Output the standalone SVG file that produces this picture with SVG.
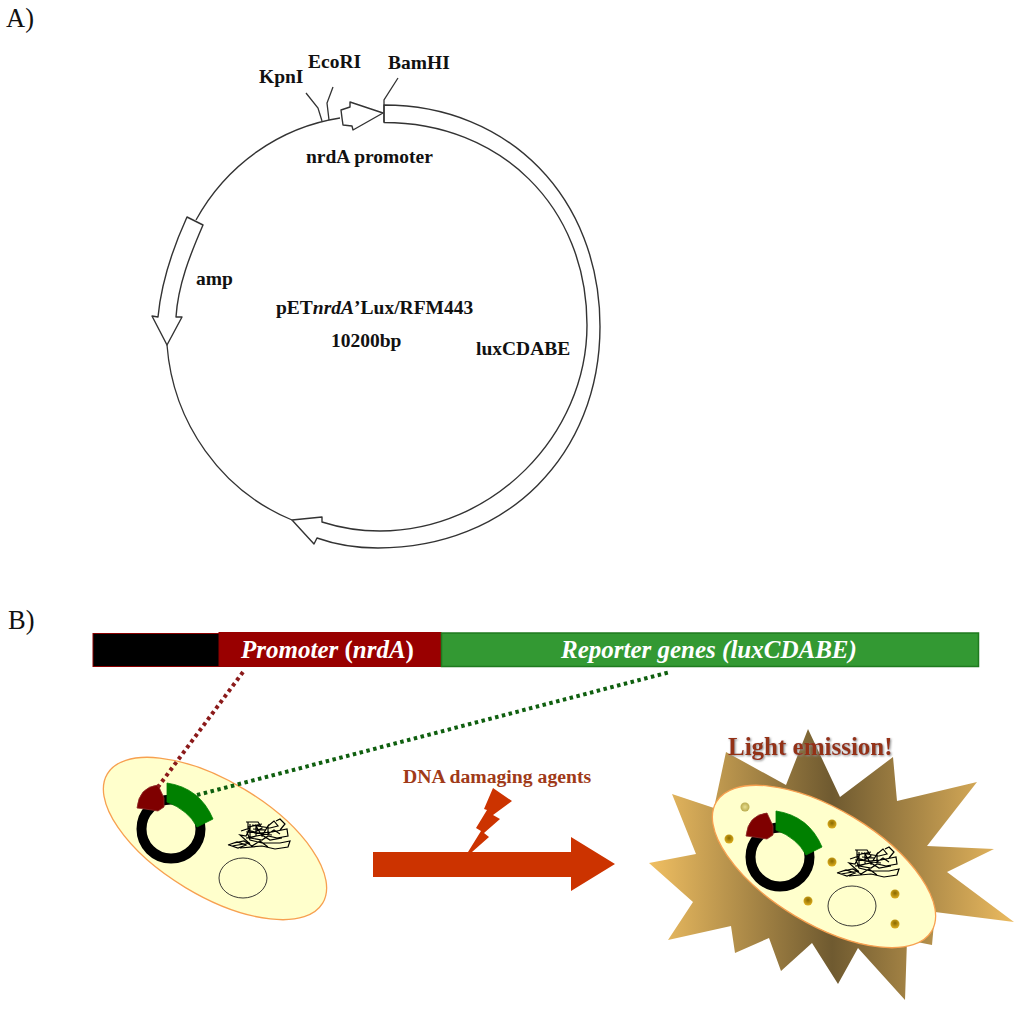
<svg xmlns="http://www.w3.org/2000/svg" width="1024" height="1011" viewBox="0 0 1024 1011">
<style>
text{font-family:"Liberation Serif","Times New Roman",serif}
.l{font-weight:bold;font-size:19.500px;fill:#111}
.p{font-size:26.500px;fill:#111}
.w{font-weight:bold;font-style:italic;font-size:25px;fill:#fff}
.pl{fill:#fff;stroke:#333;stroke-width:1.4;stroke-linejoin:round}
.bb{fill:none;stroke:#333;stroke-width:1.3}
.r{font-weight:bold;fill:#a03a18}
</style>
<defs>
<linearGradient id="burst" x1="649" y1="0" x2="1015" y2="0" gradientUnits="userSpaceOnUse">
<stop offset="0" stop-color="#f0bf62"/><stop offset="0.5" stop-color="#6f5a30"/><stop offset="1" stop-color="#ecbb60"/>
</linearGradient>
<radialGradient id="dot" cx="0.5" cy="0.4" r="0.6"><stop offset="0" stop-color="#8a6a00"/><stop offset="1" stop-color="#e0b020"/></radialGradient>
<radialGradient id="dotp" cx="0.5" cy="0.5" r="0.6"><stop offset="0" stop-color="#e8e090"/><stop offset="1" stop-color="#b0a040"/></radialGradient>
<filter id="sh" x="-5%" y="-20%" width="110%" height="140%"><feDropShadow dx="1" dy="1" stdDeviation="0.8" flood-color="#888"/></filter>
<g id="cellbody">
<ellipse cx="215" cy="838.500" rx="125.600" ry="57.300" transform="rotate(31 215 838.500)" fill="#ffffcc" stroke="#f7a050" stroke-width="1.300"/>
<circle cx="171" cy="829" r="29.500" fill="none" stroke="#000" stroke-width="10"/>
<path d="M137 808Q139 787 158 785L164 798 164 807 158 811 145 809Z" fill="#7f0000" stroke="#8c2a2a" stroke-width="0.800"/>
<path d="M167 783Q200 788 213 819L197 827Q188 810 167 802Z" fill="#008000" stroke="#008000" stroke-width="0.800"/>
<ellipse cx="243" cy="878" rx="24" ry="20" fill="none" stroke="#222" stroke-width="0.900"/>
<path d="M228 845L237 842 246 845 238 848 229 845ZM232 846L250 843M240 848L262 846 275 849 288 847 290 841 280 843 262 843 250 840 247 832 260 833 272 832 287 829 288 836 277 838 268 836 262 840 250 838M246 822L258 822 262 828 255 832 248 830 248 822ZM252 825L270 828 278 826 274 821 268 826M276 821L280 819 285 824 280 830M241 831L250 828 246 836 240 835 250 844M250 824L250 838 256 836 256 826 262 836 268 826 268 834 274 830 280 834M246 838L262 835 270 840 282 838M234 843L244 841 252 846 260 841 268 847M253 829L266 830M254 833L272 835M248 827L262 824" fill="none" stroke="#000" stroke-width="1.200"/>
</g>
</defs>
<rect width="1024" height="1011" fill="#fff"/>
<text class="p" x="6" y="27">A)</text>
<text class="p" x="8" y="629">B)</text>

<g id="plasmid-backbone">
<path class="bb" d="M340 118A200 207 0 0 0 196 220"/>
<path class="bb" d="M167 345A200 206 0 0 0 292 520"/>
</g>
<g id="amp"><path class="pl" d="M187 217L203 225C190 255 178 285 176 317L182 317 167 345 152 316 158 317C161 285 172 250 187 217Z"/><text class="l" x="196" y="285">amp</text></g>
<g id="luxCDABE"><path class="pl" d="M384 105C509 105 600 198 600 326.500C600 455 507 548 378 548Q345 548 317 538L314 544 292 520 322 517 322 522Q350 531 380 531C492 531 587 436 587 325C587 206 500 122.500 384 122.500Z"/><text class="l" x="476" y="354.500">luxCDABE</text></g>
<g id="nrdA-promoter"><path class="pl" d="M342 118L341 110 350 107 350 102 383 113 353 130 352 126 343 125Z"/><text class="l" x="306" y="163">nrdA promoter</text></g>
<g id="sites">
<path class="bb" d="M306 93L318 108 322 121M333 87L327 103 329 120M398 78L384 100V122"/>
<text class="l" x="259" y="83">KpnI</text>
<text class="l" x="308" y="68">EcoRI</text>
<text class="l" x="388" y="69">BamHI</text>
</g>
<g id="plasmid-name">
<text class="l" x="276" y="314">pET<tspan font-style="italic">nrdA</tspan>’Lux/RFM443</text>
<text class="l" x="331" y="347">10200bp</text>
</g>

<g id="bar">
<rect x="219" y="632.500" width="222" height="34" fill="#990000" stroke="#990000" stroke-width="1"/>
<rect x="93" y="633.500" width="126" height="33" fill="#000" stroke="#8b0000" stroke-width="1"/>
<rect x="441.500" y="633" width="537" height="33.500" fill="#339933" stroke="#1f7a1f" stroke-width="1.500"/>
<text class="w" x="241" y="658">Promoter <tspan font-style="normal">(</tspan>nrdA<tspan font-style="normal">)</tspan></text>
<text class="w" x="561" y="658">Reporter genes (luxCDABE)</text>
</g>

<g id="cell-before"><use href="#cellbody"/></g>

<g id="connectors">
<path d="M243 672L158 787" fill="none" stroke="#8b1a1a" stroke-width="4" stroke-dasharray="3.500 3.500"/>
<path d="M197 795L670 672" fill="none" stroke="#0f5f0f" stroke-width="4" stroke-dasharray="3.500 3.500"/>
</g>

<g id="damage-arrow">
<path d="M373 852H571V837L615 864 571 891V877H373Z" fill="#cc3300"/>
<path d="M493 788L512 801 493 815 500 819 484 833 489 837 472 852 468 852 481 831 476 828 487 810 484 809Z" fill="#cc3300"/>
<text class="r" x="403" y="783" font-size="19.700">DNA damaging agents</text>
</g>

<g id="cell-after">
<path fill="url(#burst)" d="M808 729L840 797 893 757 897 801 977 782 927 846 994 849 947 872 1014 922 935 912 932 945 907 940 905 1000 858 948 838 984 812 943 781 971 769 938 735 953 731 926 668 940 693 902 649 863 696 854 672 794 714 808 726 752 786 785Z"/>
<use href="#cellbody" x="609" y="28"/>
<circle cx="745" cy="807" r="4.500" fill="url(#dotp)"/>
<circle cx="729" cy="839" r="4.500" fill="url(#dot)"/>
<circle cx="832" cy="824" r="4.500" fill="url(#dot)"/>
<circle cx="832" cy="862" r="4.500" fill="url(#dot)"/>
<circle cx="808" cy="901" r="4.500" fill="url(#dot)"/>
<circle cx="895" cy="894" r="4.500" fill="url(#dot)"/>
<circle cx="895" cy="924" r="4.500" fill="url(#dot)"/>
<text class="r" x="728" y="755" font-size="25" filter="url(#sh)" style="fill:#943018">Light emission!</text>
</g>
</svg>
